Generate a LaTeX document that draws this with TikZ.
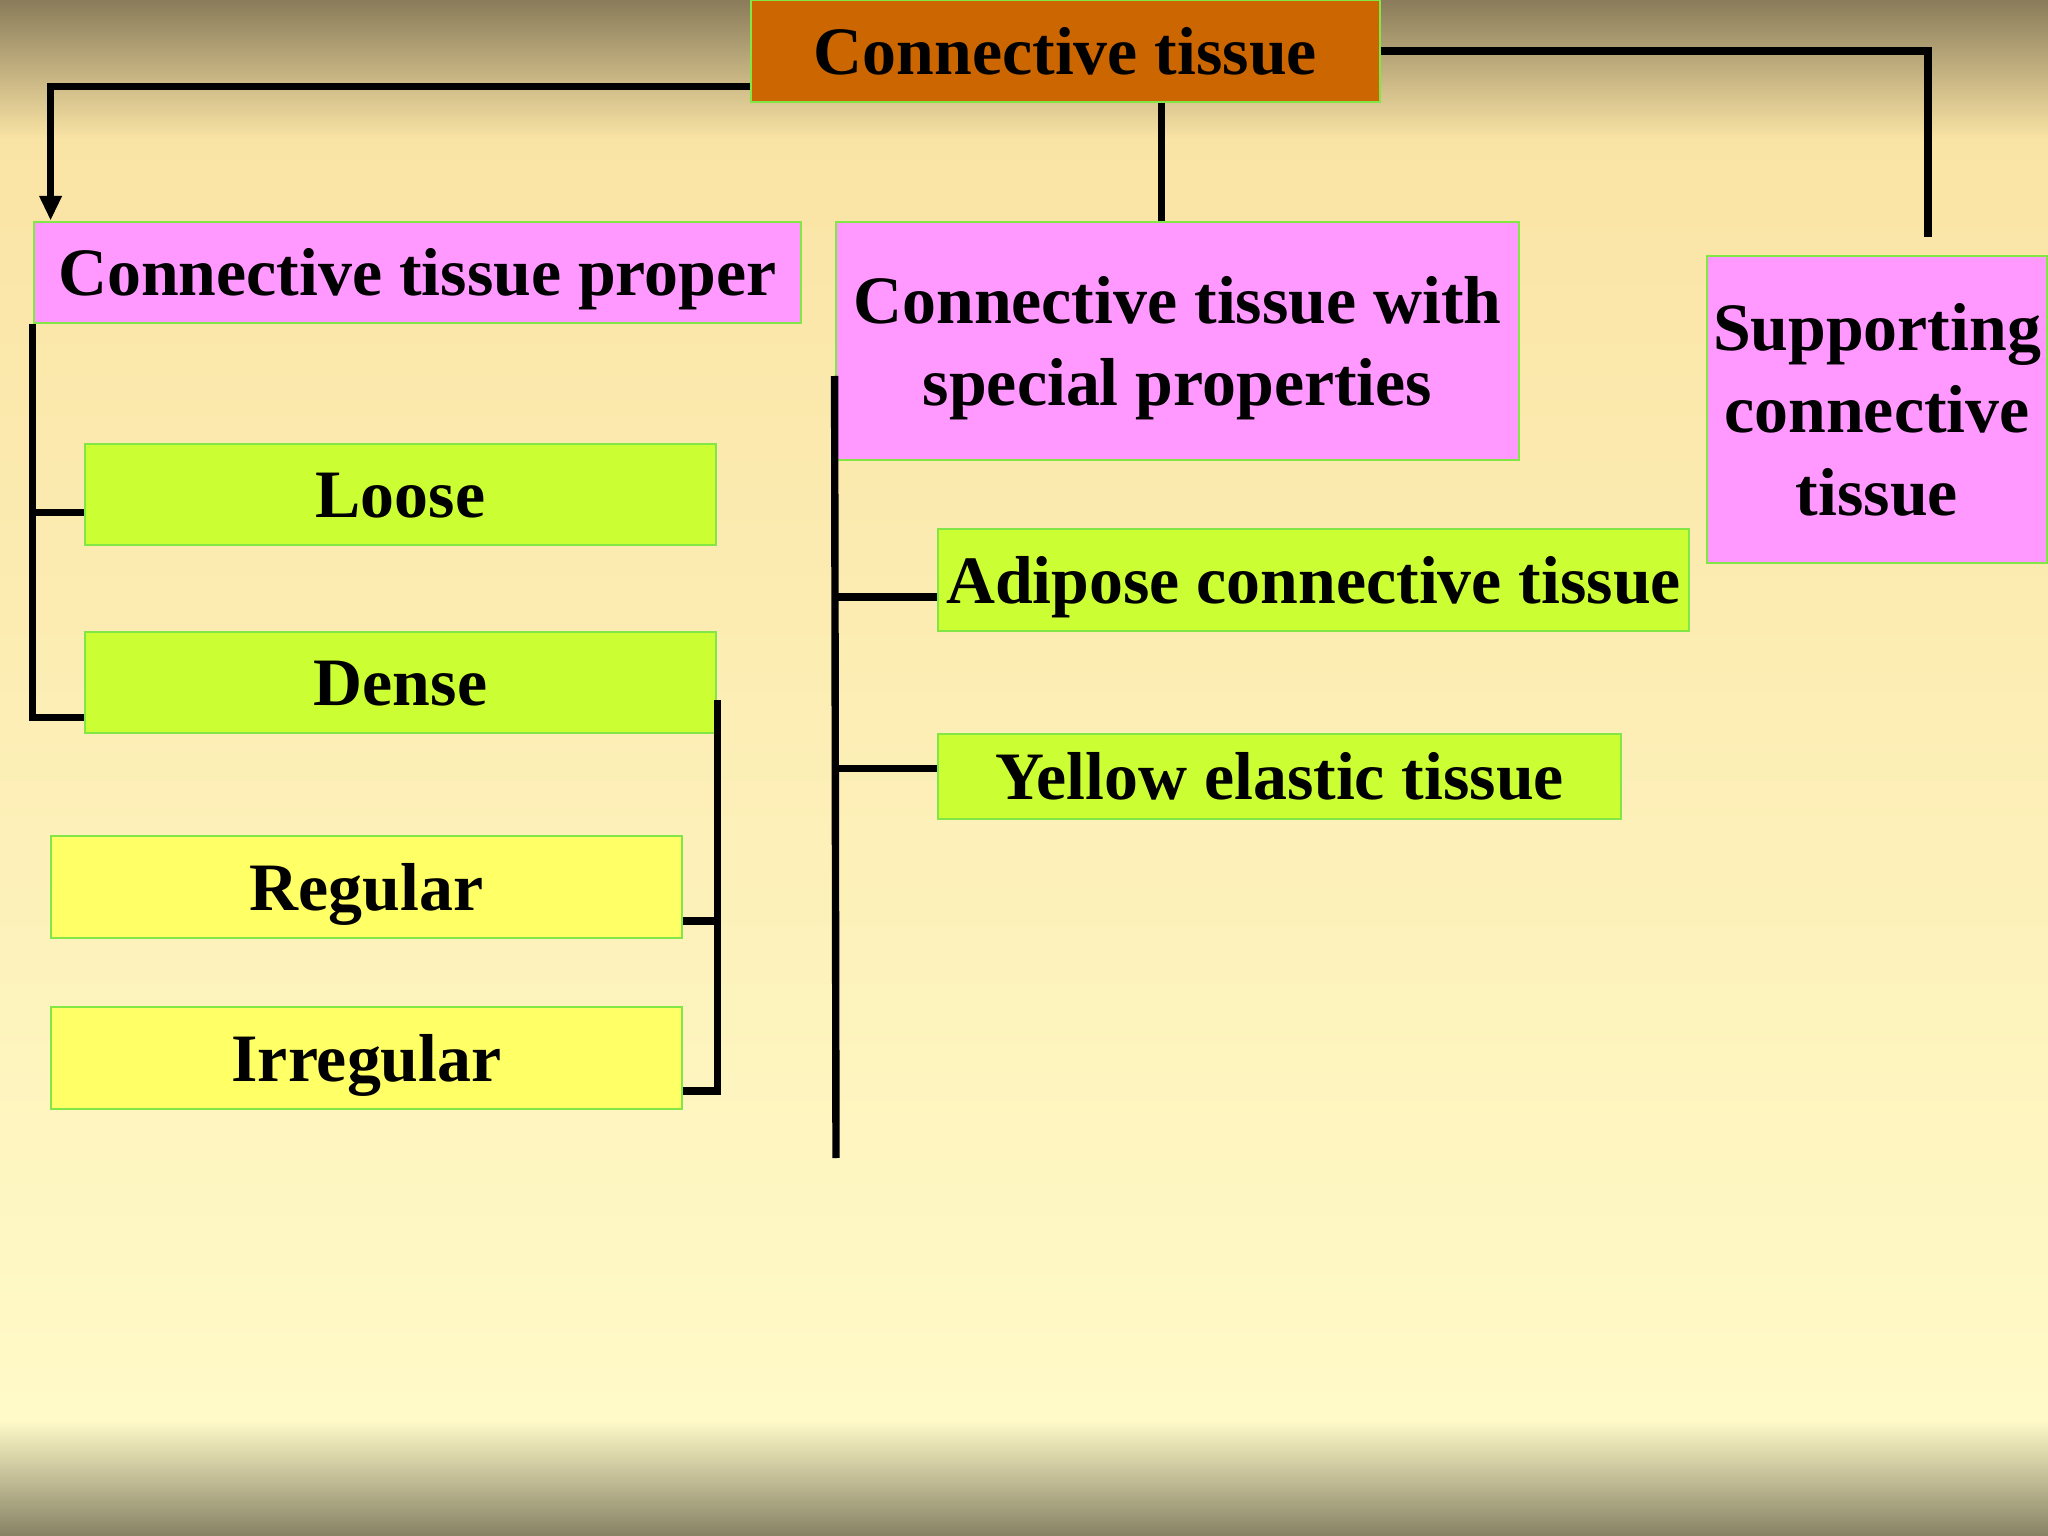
\documentclass[tikz,border=0pt]{standalone}
\usepackage{fontspec}
\setmainfont{Liberation Serif}
\usepackage{tikz}
\usetikzlibrary{calc, positioning, arrows.meta}
\definecolor{rust}{RGB}{204,102,0}
\definecolor{pinkbox}{RGB}{255,153,255}
\definecolor{limebox}{RGB}{204,255,51}
\definecolor{yellowbox}{RGB}{255,255,102}
\definecolor{boxline}{RGB}{130,230,70}
\definecolor{bgtop}{RGB}{138,124,90}
\definecolor{bgmid}{RGB}{250,228,165}
\definecolor{bglow}{RGB}{255,250,200}
\definecolor{bgbot}{RGB}{135,130,100}

\begin{document}
\begin{tikzpicture}[
  font=\fontsize{19.3}{23.5}\selectfont\bfseries,
  box/.style={draw=boxline, line width=0.8pt, inner sep=0pt, align=center},
  oneline/.style={text height=17.5pt, text depth=4.2pt},
  head/.style={box, oneline, fill=rust, minimum width=6.29cm, minimum height=1.02cm},
  kind/.style={box, fill=pinkbox},
  sub/.style={box, oneline, fill=limebox, minimum height=1.01cm},
  subsub/.style={box, oneline, fill=yellowbox, minimum width=6.31cm, minimum height=1.02cm},
  link/.style={line width=2.1pt}
]
\useasboundingbox (0,0) rectangle (20.48,-15.36);
\shade[top color=bgtop, bottom color=bgmid] (0,0) rectangle (20.48,-1.4);
\shade[top color=bgmid, bottom color=bglow] (0,-1.4) rectangle (20.48,-14.2);
\shade[top color=bglow, bottom color=bgbot] (0,-14.2) rectangle (20.48,-15.36);

\node[head] (ct) at (10.655,-0.51) {Connective tissue};
\node[kind, oneline, minimum width=7.67cm, minimum height=1.01cm] (proper) at (4.175,-2.725) {Connective tissue proper};
\node[kind, text depth=0pt, minimum width=6.83cm, minimum height=2.38cm] (special) at (11.775,-3.41) {Connective tissue with\\special properties};
\node[kind, minimum width=3.40cm, minimum height=3.07cm] (supp) at (18.77,-4.095) {Supporting\\connective\\tissue};

\node[sub, minimum width=6.31cm] (loose) at (4.005,-4.945) {Loose};
\node[sub, minimum width=6.31cm] (dense) at (4.005,-6.825) {Dense};
\node[subsub] (regular) at (3.665,-8.87) {Regular};
\node[subsub] (irregular) at (3.665,-10.58) {Irregular};

\node[sub, minimum width=7.51cm, minimum height=1.02cm] (adipose) at (13.135,-5.80) {Adipose connective tissue};
\node[sub, minimum width=6.83cm, minimum height=0.85cm] (yellow) at (12.795,-7.765) {Yellow elastic tissue};
\coordinate (spbot) at (8.36,-11.58);

\draw[link, -{Triangle[width=6pt,length=7pt]}] ([yshift=0.17cm]ct.south west) -| ([xshift=0.18cm]proper.north west);
\draw[link] ([xshift=0.96cm]ct.south) -- ([xshift=0.96cm]ct.south |- special.north);
\draw[link] (ct.east) -| ([xshift=0.51cm,yshift=0.18cm]supp.north);

\draw[link] (proper.south west) |- ([yshift=-0.35cm]dense.west);
\draw[link] ([yshift=-0.18cm]loose.west) -- ([yshift=-0.18cm]loose.west -| proper.south west);

\draw[link] ([yshift=-0.18cm]dense.east) |- ([yshift=-0.33cm]irregular.east);
\draw[link] ([yshift=-0.34cm]regular.east) -- ([yshift=-0.34cm]regular.east -| dense.east);

\draw[link] ([yshift=-0.35cm]special.west) -- (spbot);
\draw[link] ([yshift=-0.17cm]adipose.west) -- ([yshift=-0.17cm]adipose.west -| special.west);
\draw[link] ([yshift=0.08cm]yellow.west) -- ([yshift=0.08cm]yellow.west -| special.west);
\end{tikzpicture}
\end{document}
